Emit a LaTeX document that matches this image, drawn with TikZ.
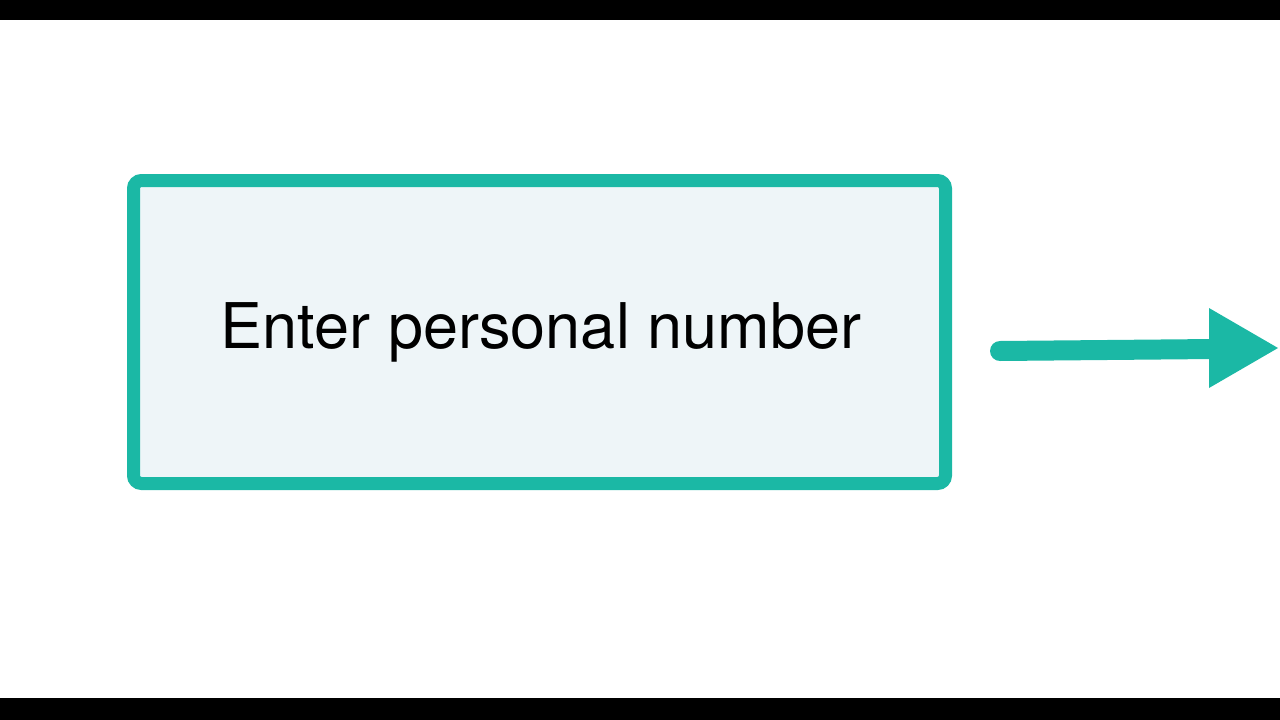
\documentclass[tikz,border=0pt]{standalone}
\usepackage{fontspec}
\setmainfont{TeX Gyre Heros}
\usetikzlibrary{shadows}
\definecolor{teal1}{HTML}{1BB8A5}
\definecolor{boxfill}{HTML}{EEF5F8}
\tikzset{
  stepbox/.style={draw=teal1, line width=13pt, fill=boxfill, rounded corners=8pt,
    minimum width=812pt, minimum height=303pt, inner sep=0pt,
    drop shadow={opacity=0.08, shadow xshift=0pt, shadow yshift=-2pt}},
  labeltext/.style={font=\fontsize{63}{70}\selectfont, text=black, inner sep=0pt, anchor=base},
  shaft/.style={draw=teal1, line width=20pt, line cap=round},
  headfill/.style={fill=teal1}
}
\begin{document}
\begin{tikzpicture}[x=1pt,y=-1pt]
  \useasboundingbox (0,0) rectangle (1280,720);
  \fill[black] (0,0) rectangle (1280,20);
  \fill[black] (0,698) rectangle (1280,720);
  \node[stepbox] (box) at (539.5,332) {};
  \node[labeltext] (lbl) at (541,348) {Enter personal number};
  \coordinate (s) at (1000,351);
  \coordinate (e) at (1214,349);
  \draw[shaft] (s) -- (e);
  \fill[headfill] (1209,308) -- (1278,348) -- (1209,388) -- cycle;
\end{tikzpicture}
\end{document}
